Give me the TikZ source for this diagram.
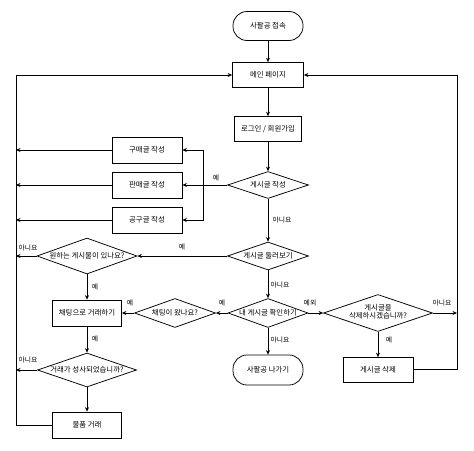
\documentclass[tikz,border=0pt]{standalone}
\usepackage{fontspec}
\setmainfont{Noto Sans CJK KR}
\usetikzlibrary{shapes.geometric,arrows.meta}
\newcommand\zt[1]{\makebox[0pt]{#1}}
\begin{document}
\begin{tikzpicture}[x=1pt,y=-1pt,
  font=\fontsize{7.4}{8.8}\selectfont,
  box/.style={draw, rectangle, minimum width=70pt, minimum height=25pt, inner sep=0pt, line width=0.75pt},
  term/.style={box, rounded corners=14pt, minimum height=29pt},
  dec/.style={draw, diamond, inner sep=0pt, line width=0.75pt},
  lbl/.style={inner sep=0pt, font=\fontsize{6.8}{8}\selectfont},
  arr/.style={-{Stealth[length=4.5pt,width=4pt]}, line width=0.75pt},
  ln/.style={line width=0.75pt}]
\fill[white] (0,0) rectangle (474,450);
\useasboundingbox (0,0) rectangle (474,450);

% nodes
\node[term] (start) at (268,26) {사팔공 접속};
\node[box, minimum width=71pt] (main) at (268,75) {메인 페이지};
\node[box, minimum width=67pt] (login) at (268,129) {로그인 / 회원가입};
\node[box, minimum height=26pt] (buy) at (147,150) {구매글 작성};
\node[box, minimum height=26pt] (sell) at (147,185) {판매글 작성};
\node[box, minimum height=26pt] (group) at (147,220) {공구글 작성};
\node[dec, minimum width=81pt, minimum height=27pt] (write) at (268,185) {\zt{게시글 작성}};
\node[dec, minimum width=81pt, minimum height=28pt] (browse) at (268,256) {\zt{게시글 둘러보기}};
\node[dec, minimum width=100pt, minimum height=36pt] (want) at (87,256) {\zt{원하는 게시물이 있나요?}};
\node[box, minimum width=69pt, minimum height=26pt] (chat) at (87,313) {채팅으로 거래하기};
\node[dec, minimum width=81pt, minimum height=29pt] (came) at (175,313) {\zt{채팅이 왔나요?}};
\node[dec, minimum width=80pt, minimum height=29pt] (mine) at (268,313) {\zt{내 게시글 확인하기}};
\node[term, minimum height=30pt] (exit) at (268,370) {사팔공 나가기};
\node[dec, minimum width=109pt, minimum height=37pt] (delq) at (378,313) {\zt{\begin{tabular}{@{}c@{}}게시글을\\[-1pt]삭제하시겠습니까?\end{tabular}}};
\node[box, minimum height=25pt] (del) at (378,370) {게시글 삭제};
\node[dec, minimum width=99pt, minimum height=34pt] (deal) at (87,370) {\zt{거래가 성사되었습니까?}};
\node[box, minimum width=69pt, minimum height=26pt] (trade) at (87,425) {물품 거래};

% helper coordinates
\coordinate (split) at (203,185);
\coordinate (Lbuy) at (16,150);
\coordinate (Lsell) at (16,185);
\coordinate (Lgroup) at (16,220);
\coordinate (Lwant) at (16,256);
\coordinate (Ldeal) at (16,370);
\coordinate (Ltrade) at (16,425);
\coordinate (Lmain) at (16,75);
\coordinate (Rdelq) at (457,313);
\coordinate (Rdel) at (457,369);
\coordinate (Rmain) at (457,75);

% connectors
\draw[arr] (start) -- (main);
\draw[arr] (main) -- (login);
\draw[arr] (login) -- (write);
\draw[arr] (write.west) -- (sell.east);
\draw[arr] (split) |- (buy.east);
\draw[arr] (split) |- (group.east);
\draw[arr] (buy.west) -- (Lbuy);
\draw[arr] (sell.west) -- (Lsell);
\draw[arr] (group.west) -- (Lgroup);
\draw[arr] (write.south) -- (browse.north);
\draw[arr] (browse.west) -- (want.east);
\draw[arr] (want.west) -- (Lwant);
\draw[arr] (want.south) -- (chat.north);
\draw[arr] (browse.south) -- (mine.north);
\draw[arr] (mine.west) -- (came.east);
\draw[arr] (came.west) -- (chat.east);
\draw[arr] (chat.south) -- (deal.north);
\draw[arr] (deal.west) -- (Ldeal);
\draw[arr] (deal.south) -- (trade.north);
\draw[arr] (trade.west) -- (Ltrade) -- (Lmain) -- (main.west);
\draw[arr] (mine.south) -- (exit.north);
\draw[arr] (mine.east) -- (delq.west);
\draw[arr] (delq.east) -- (Rdelq);
\draw[arr] (delq.south) -- (del.north);
\draw[arr] (del.east |- Rdel) -- (Rdel) -- (Rmain) -- (main.east);

% labels
\node[lbl] (l1) at (216,178) {예};
\node[lbl] (l2) at (282,220) {아니요};
\node[lbl] (l3) at (182,247) {예};
\node[lbl] (l4) at (28,248) {아니요};
\node[lbl] (l5) at (95,287) {예};
\node[lbl] (l6) at (280,285) {아니요};
\node[lbl] (l7) at (222,303) {예};
\node[lbl] (l8) at (310,303) {예외};
\node[lbl] (l9) at (442,303) {아니요};
\node[lbl] (l10) at (280,340) {아니요};
\node[lbl] (l11) at (389,340) {예};
\node[lbl] (l12) at (130,303) {예};
\node[lbl] (l13) at (95,339) {예};
\node[lbl] (l14) at (28,360) {아니요};
\end{tikzpicture}
\end{document}
